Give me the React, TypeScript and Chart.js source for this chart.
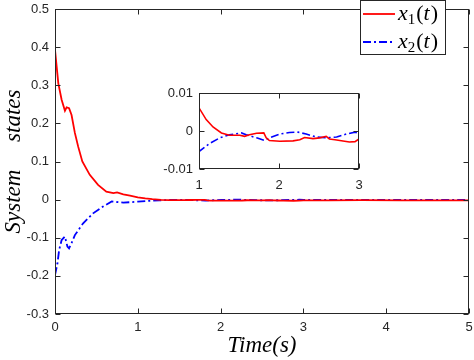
import React, { useEffect, useRef } from "react";
import { Chart, registerables } from "chart.js";
Chart.register(...registerables);

// ---- data ----
const timeX1 = [0, 0.04, 0.08, 0.12, 0.14, 0.17, 0.2, 0.24, 0.28, 0.33, 0.42, 0.52, 0.62, 0.705, 0.75, 0.825, 0.906, 1.0, 1.09, 1.175, 1.28, 1.38, 1.51, 1.57, 1.63, 1.72, 1.81, 1.84, 1.88, 2.01, 2.175, 2.26, 2.32, 2.425, 2.51, 2.59, 2.63, 2.7, 2.76, 2.88, 2.95, 3.0, 3.3, 3.7, 4.2, 4.6, 5.0];
const valX1 = [0.393, 0.305, 0.262, 0.233, 0.242, 0.24, 0.222, 0.175, 0.139, 0.1, 0.065, 0.0386, 0.021, 0.017, 0.019, 0.014, 0.0105, 0.0061, 0.003, 0.00105, -0.0005, -0.0011, -0.0011, -0.0014, -0.001, -0.0006, -0.0005, -0.0018, -0.0025, -0.0027, -0.0026, -0.0023, -0.0017, -0.002, -0.0018, -0.0014, -0.0021, -0.0023, -0.0025, -0.0029, -0.0028, -0.0021, -0.002, -0.0015, -0.002, -0.0018, -0.002];
const timeX2 = [0, 0.03, 0.05, 0.08, 0.12, 0.15, 0.17, 0.2, 0.24, 0.34, 0.46, 0.58, 0.685, 0.825, 1.0, 1.13, 1.26, 1.38, 1.53, 1.59, 1.72, 1.82, 1.88, 2.01, 2.13, 2.24, 2.34, 2.47, 2.59, 2.72, 2.84, 2.95, 3.0, 3.3, 3.8, 4.3, 4.8, 5.0];
const valX2 = [-0.198, -0.167, -0.132, -0.106, -0.097, -0.123, -0.128, -0.114, -0.093, -0.062, -0.036, -0.018, -0.005, -0.008, -0.0054, -0.0033, -0.0018, -0.001, -0.0005, -0.001, -0.0018, -0.0025, -0.0018, -0.0008, -0.0004, -0.0003, -0.0008, -0.0016, -0.0018, -0.0016, -0.0008, -0.0003, -0.0007, -0.001, -0.0005, -0.001, -0.0006, -0.0008];

const seriesBase = ["x", "x"];
const seriesSub = ["1", "2"];
const seriesArg = ["(t)", "(t)"];
const seriesColors = ["#ff0000", "#0000ff"];

const xTicks = [0, 1, 2, 3, 4, 5];
const xTickLabels = ["0", "1", "2", "3", "4", "5"];
const yTicks = [-0.3, -0.2, -0.1, 0, 0.1, 0.2, 0.3, 0.4, 0.5];
const yTickLabels = ["-0.3", "-0.2", "-0.1", "0", "0.1", "0.2", "0.3", "0.4", "0.5"];

const insetXTicks = [1, 2, 3];
const insetXTickLabels = ["1", "2", "3"];
const insetYTicks = [-0.01, 0, 0.01];
const insetYTickLabels = ["-0.01", "0", "0.01"];

const xTitle = "Time(s)";
const yTitle = "System\u2003\u2009states";

// ---- styles ----
const AXIS_COLOR = "#262626";
const TICK_FONT = { family: "'Liberation Sans', Arial, sans-serif", size: 13 };
const TITLE_FONT = { family: "'Liberation Serif', 'Times New Roman', serif", size: 23, style: "italic" as const };
const DASH_DOT = [8, 3, 2, 3];

function makeDatasets(width: number) {
  return [
    {
      label: "x1(t)",
      data: timeX1.map((t, i) => ({ x: t, y: valX1[i] })),
      borderColor: seriesColors[0],
      borderWidth: width,
      pointRadius: 0,
      tension: 0,
      fill: false,
    },
    {
      label: "x2(t)",
      data: timeX2.map((t, i) => ({ x: t, y: valX2[i] })),
      borderColor: seriesColors[1],
      borderWidth: width,
      borderDash: DASH_DOT,
      pointRadius: 0,
      tension: 0,
      fill: false,
    },
  ];
}

const boxPlugin = {
  id: "matlabBox",
  beforeDraw(chart: any, _a: any, opts: any) {
    if (opts && opts.fill) {
      const { left, top, right, bottom } = chart.chartArea;
      const ctx = chart.ctx;
      ctx.save();
      ctx.fillStyle = "#ffffff";
      ctx.fillRect(left, top, right - left, bottom - top);
      ctx.restore();
    }
  },
  afterDatasetsDraw(chart: any) {
    const { left, top, right, bottom } = chart.chartArea;
    const ctx = chart.ctx;
    const L = 5;
    ctx.save();
    ctx.strokeStyle = AXIS_COLOR;
    ctx.lineWidth = 1;
    const l = Math.round(left) + 0.5, r = Math.round(right) - 0.5;
    const t = Math.round(top) + 0.5, b = Math.round(bottom) - 0.5;
    ctx.strokeRect(l, t, r - l, b - t);
    ctx.beginPath();
    chart.scales.x.ticks.forEach((tk: any) => {
      const px = Math.round(chart.scales.x.getPixelForValue(tk.value)) + 0.5;
      ctx.moveTo(px, b); ctx.lineTo(px, b - L);
      ctx.moveTo(px, t); ctx.lineTo(px, t + L);
    });
    chart.scales.y.ticks.forEach((tk: any) => {
      const py = Math.round(chart.scales.y.getPixelForValue(tk.value)) + 0.5;
      ctx.moveTo(l, py); ctx.lineTo(l + L, py);
      ctx.moveTo(r, py); ctx.lineTo(r - L, py);
    });
    ctx.stroke();
    ctx.restore();
  },
};

const legendPlugin = {
  id: "mathLegend",
  afterDraw(chart: any, _a: any, opts: any) {
    if (!opts || !opts.show) return;
    const ctx = chart.ctx;
    const bx = 360.5, by = 0.5, bw = 85, bh = 54;
    ctx.save();
    ctx.fillStyle = "#ffffff";
    ctx.fillRect(bx, by, bw, bh);
    ctx.strokeStyle = AXIS_COLOR;
    ctx.lineWidth = 1;
    ctx.strokeRect(bx, by, bw, bh);
    const rows = [14, 42];
    rows.forEach((yc, i) => {
      ctx.beginPath();
      ctx.strokeStyle = seriesColors[i];
      ctx.lineWidth = 1.8;
      ctx.setLineDash(i === 1 ? DASH_DOT : []);
      ctx.moveTo(363, yc);
      ctx.lineTo(395, yc);
      ctx.stroke();
      ctx.setLineDash([]);
      ctx.fillStyle = "#000";
      ctx.textBaseline = "alphabetic";
      let x = 398;
      const base = yc + 6;
      ctx.font = "italic 22px 'Liberation Serif', serif";
      ctx.fillText(seriesBase[i], x, base);
      x += ctx.measureText(seriesBase[i]).width;
      ctx.font = "15px 'Liberation Serif', serif";
      ctx.fillText(seriesSub[i], x, base + 4);
      x += ctx.measureText(seriesSub[i]).width + 1;
      const arg = seriesArg[i];
      ctx.font = "22px 'Liberation Serif', serif";
      ctx.fillText(arg[0], x, base);
      x += ctx.measureText(arg[0]).width;
      ctx.font = "italic 22px 'Liberation Serif', serif";
      ctx.fillText(arg[1], x, base);
      x += ctx.measureText(arg[1]).width + 1;
      ctx.font = "22px 'Liberation Serif', serif";
      ctx.fillText(arg[2], x, base);
    });
    ctx.restore();
  },
};

function axisOptions(
  min: number, max: number, ticks: number[], labels: string[], fitSize: number,
  horizontal: boolean, title: string | null, padding: number
) {
  return {
    type: "linear" as const,
    min,
    max,
    grid: { display: false, drawTicks: false },
    border: { display: false },
    afterBuildTicks: (s: any) => { s.ticks = ticks.map((v) => ({ value: v })); },
    afterFit: (s: any) => {
      if (horizontal) s.height = fitSize; else s.width = fitSize;
      s.paddingLeft = 0; s.paddingRight = 0; s.paddingTop = 0; s.paddingBottom = 0;
    },
    ticks: {
      autoSkip: false,
      maxRotation: 0,
      minRotation: 0,
      padding,
      font: TICK_FONT,
      color: AXIS_COLOR,
      callback: (_v: any, i: number) => labels[i],
    },
    title: title
      ? { display: true, text: title, font: TITLE_FONT, color: "#000", padding: 0 }
      : { display: false },
  };
}

export default function App() {
  const mainRef = useRef<HTMLCanvasElement>(null);
  const insetRef = useRef<HTMLCanvasElement>(null);

  useEffect(() => {
    const main = new Chart(mainRef.current!, {
      type: "line",
      data: { datasets: makeDatasets(1.8) as any },
      options: {
        animation: false,
        responsive: false,
        devicePixelRatio: 1,
        layout: { padding: { top: 9, right: 5, left: 0, bottom: 0 } },
        plugins: {
          legend: { display: false },
          tooltip: { enabled: false },
          matlabBox: { fill: false },
          mathLegend: { show: true },
        } as any,
        scales: {
          x: axisOptions(0, 5, xTicks, xTickLabels, 46, true, xTitle, 6) as any,
          y: axisOptions(-0.3, 0.5, yTicks, yTickLabels, 55, false, yTitle, 6) as any,
        },
      },
      plugins: [boxPlugin, legendPlugin],
    });

    const inset = new Chart(insetRef.current!, {
      type: "line",
      data: { datasets: makeDatasets(1.6) as any },
      options: {
        animation: false,
        responsive: false,
        devicePixelRatio: 1,
        layout: { padding: { top: 8, right: 11, left: 0, bottom: 0 } },
        plugins: {
          legend: { display: false },
          tooltip: { enabled: false },
          matlabBox: { fill: true },
          mathLegend: { show: false },
        } as any,
        scales: {
          x: axisOptions(1, 3, insetXTicks, insetXTickLabels, 26, true, null, 9) as any,
          y: axisOptions(-0.01, 0.01, insetYTicks, insetYTickLabels, 49, false, null, 6) as any,
        },
      },
      plugins: [boxPlugin, legendPlugin],
    });

    return () => {
      main.destroy();
      inset.destroy();
    };
  }, []);

  return (
    <div style={{ position: "fixed", left: 0, top: 0, width: 474, height: 360, background: "#fff" }}>
      <canvas ref={mainRef} width={474} height={360} style={{ position: "absolute", left: 0, top: 0, display: "block" }} />
      <canvas ref={insetRef} width={220} height={110} style={{ position: "absolute", left: 150, top: 85, display: "block" }} />
    </div>
  );
}
